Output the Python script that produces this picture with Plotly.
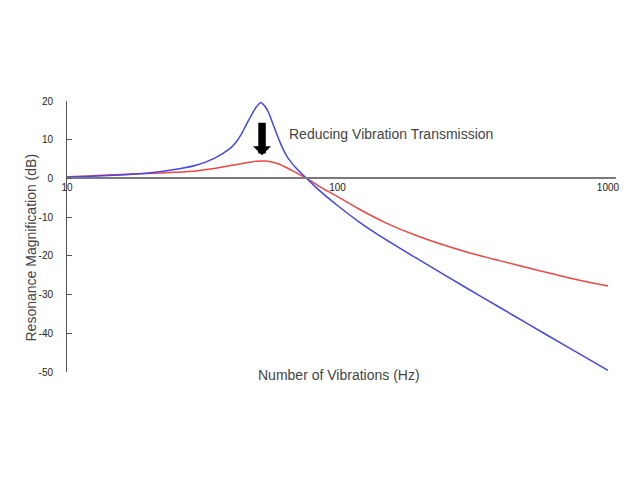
import plotly.graph_objects as go

freq = [10, 12, 15, 20, 25, 30, 35, 40, 42, 44, 46, 47, 48, 49, 50, 51, 52, 53, 54, 55, 56,
        57, 58, 59, 61, 63, 65, 67, 70, 73, 77, 85, 100, 120, 150, 200, 300, 400, 500, 700, 1000]

# Blue: lightly damped response (dB)
blue_db = [0.35, 0.5, 0.8, 1.4, 2.3, 3.4, 5.2, 7.7, 9.2, 11.3, 13.9, 15.1, 16.3, 17.4, 18.4,
           19.1, 19.6, 19.2, 18.6, 17.7, 16.5, 15.1, 13.7, 12.3, 9.7, 7.5, 5.7, 4.4, 2.8,
           1.5, 0.0, -2.9, -7.0, -11.2, -15.7, -21.0, -28.3, -33.4, -37.4, -43.3, -49.6]

# Red: damped response (dB)
red_db = [0.45, 0.65, 0.95, 1.3, 1.6, 1.95, 2.55, 3.3, 3.55, 3.8, 4.05, 4.16, 4.26, 4.34,
          4.41, 4.46, 4.49, 4.5, 4.48, 4.43, 4.36, 4.27, 4.15, 4.0, 3.65, 3.2, 2.75, 2.25,
          1.55, 0.85, 0.0, -1.9, -4.7, -7.9, -11.4, -15.0, -19.0, -21.3, -23.0, -25.5, -27.8]

x_ticks = [10, 100, 1000]
x_tick_labels = ["10", "100", "1000"]
y_ticks = [20, 10, 0, -10, -20, -30, -40, -50]
y_tick_labels = ["20", "10", "0", "-10", "-20", "-30", "-40", "-50"]

FONT = "Liberation Sans, Arial, Helvetica, sans-serif"

fig = go.Figure()
fig.add_trace(go.Scatter(x=freq, y=red_db, mode="lines",
                         line=dict(color="rgb(240,70,70)", width=1.5, shape="spline", smoothing=0.8),
                         hoverinfo="skip", showlegend=False))
fig.add_trace(go.Scatter(x=freq, y=blue_db, mode="lines",
                         line=dict(color="rgb(70,70,235)", width=1.5, shape="spline", smoothing=0.8),
                         hoverinfo="skip", showlegend=False))

# page body has an 8px margin; plot area target: x 67..616, y 101..372
fig.update_layout(
    width=638, height=478,
    margin=dict(l=59, r=30, t=93, b=114, autoexpand=False),
    paper_bgcolor="white", plot_bgcolor="white",
    font=dict(family=FONT, color="#333333", size=11),
    xaxis=dict(type="log", range=[1, 3.0296], anchor="free", position=50 / 70,
               showline=True, linecolor="#7a7a7a", linewidth=1.5,
               ticks="", tickvals=x_ticks, ticktext=x_tick_labels,
               tickfont=dict(size=10, color="#222222"),
               showgrid=False, zeroline=False),
    yaxis=dict(range=[-50, 20], domain=[0, 1],
               showline=True, linecolor="#555555", linewidth=1,
               ticks="inside", ticklen=5, tickcolor="#555555", tickwidth=1,
               tickvals=y_ticks, ticktext=y_tick_labels, ticklabelstandoff=11,
               tickfont=dict(size=10, color="#222222"),
               showgrid=False, zeroline=False),
    annotations=[
        dict(text="Resonance Magnification (dB)", xref="paper", yref="paper",
             x=(30 - 67) / 549, y=(372 - 247.5) / 271, textangle=-90,
             showarrow=False, xanchor="center", yanchor="middle",
             font=dict(size=14, color="#444444")),
        dict(text="Number of Vibrations (Hz)", xref="paper", yref="paper",
             x=(339 - 67) / 549, y=(372 - 375) / 271,
             showarrow=False, xanchor="center", yanchor="middle",
             font=dict(size=14, color="#444444")),
        dict(text="Reducing Vibration Transmission", xref="x", yref="y",
             x=1.813, y=11.4, showarrow=False, xanchor="left", yanchor="middle",
             font=dict(size=14, color="#444444")),
        dict(text="", xref="x", yref="y", x=1.721, y=6.0,
             showarrow=True, ax=0, ay=-34, arrowhead=1, arrowsize=0.4,
             arrowwidth=7.5, arrowcolor="black", standoff=0),
    ],
)

fig.write_html("out.html")
